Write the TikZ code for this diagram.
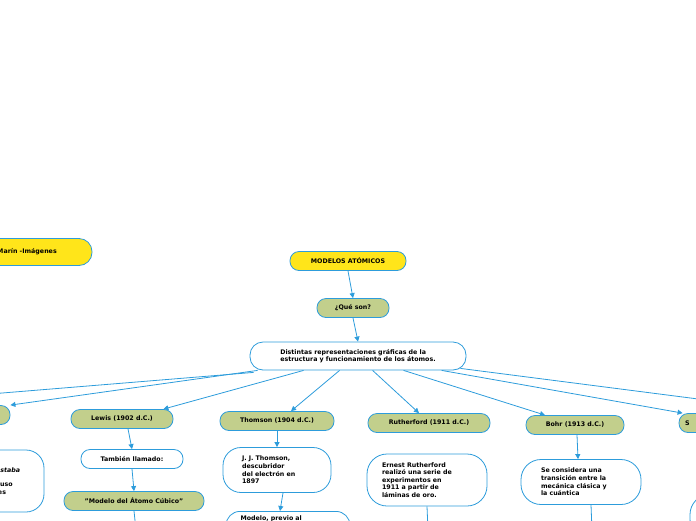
\documentclass[tikz,border=0pt]{standalone}
\usepackage{fontspec}
\setmainfont{DejaVu Sans}
\usetikzlibrary{arrows.meta}
\definecolor{ln}{HTML}{2D9CDB}
\definecolor{yel}{HTML}{FFE51A}
\definecolor{grn}{HTML}{C2CF8C}
\tikzset{
 bx/.style={draw=ln,line width=0.8pt,rounded corners=9pt,font=\bfseries\fontsize{6.3}{7.6}\selectfont,inner sep=2pt,align=center},
 yb/.style={bx,fill=yel},
 gb/.style={bx,fill=grn},
 wb/.style={bx,fill=white},
 con/.style={draw=ln,line width=0.8pt,-{Triangle[width=5pt,length=5pt]}},
 pl/.style={draw=ln,line width=0.8pt}
}
\begin{document}
\begin{tikzpicture}[x=1pt,y=-1pt]
\useasboundingbox (0,0) rectangle (696,520);
\clip (0,0) rectangle (696,520);
\node[yb,minimum width=130pt,minimum height=27pt,rounded corners=13pt] (src) at (27,252) {Marín -Imágenes};
\node[yb,minimum width=116pt,minimum height=19pt] (mod) at (348,261) {MODELOS ATÓMICOS};
\node[gb,minimum width=72pt,minimum height=19pt] (que) at (353,308) {¿Qué son?};
\node[wb,minimum width=216pt,minimum height=28pt,rounded corners=13pt,align=left] (dis) at (358,356) {Distintas representaciones gráficas de la\\estructura y funcionamiento de los átomos.};
\node[gb,minimum width=80pt,minimum height=19pt] (g0) at (-30,415) {};
\node[gb,minimum width=102pt,minimum height=19pt] (lew) at (122,419) {Lewis (1902 d.C.)};
\node[gb,minimum width=114pt,minimum height=19pt] (tho) at (277,421) {Thomson (1904 d.C.)};
\node[gb,minimum width=122pt,minimum height=19pt] (rut) at (429,423) {Rutherford (1911 d.C.)};
\node[gb,minimum width=98pt,minimum height=19pt] (boh) at (575,425) {Bohr (1913 d.C.)};
\node[gb,minimum width=82pt,minimum height=19pt,text width=70pt,align=left] (g6) at (720,423) {S};
\node[wb,minimum width=88pt,minimum height=62pt,rounded corners=18pt,text width=80pt,align=left] (w0) at (0,481) {\hspace*{36pt}\textit{estaba}\\[7pt]\hspace*{38pt}luso\\\hspace*{38pt}es};
\node[wb,minimum width=102pt,minimum height=19pt] (tam) at (132,459) {También llamado:};
\node[gb,minimum width=140pt,minimum height=19pt] (cub) at (134,501) {"Modelo del Átomo Cúbico"};
\node[wb,minimum width=108pt,minimum height=45pt,rounded corners=18pt,text width=70pt,align=left] (jjt) at (277,470) {J. J. Thomson,\\descubridor\\del electrón en\\1897};
\node[wb,minimum width=124pt,rounded corners=14pt,text width=95pt,align=left,anchor=north,inner sep=4pt] (prev) at (288,511) {Modelo, previo al\\[16pt]\mbox{}};
\node[wb,minimum width=120pt,minimum height=52pt,rounded corners=20pt,text width=90pt,align=left] (ern) at (427,480) {Ernest Rutherford\\realizó una serie de\\experimentos en\\1911 a partir de\\láminas de oro.};
\node[wb,minimum width=120pt,minimum height=45pt,rounded corners=20pt,text width=80pt,align=left] (bw) at (581,482) {Se considera una\\transición entre la\\mecánica clásica y\\la cuántica};
\node[wb,minimum width=100pt,minimum height=45pt,rounded corners=20pt] (w6) at (740,517) {};
\coordinate (offL) at (-10,394);
\coordinate (offR) at (706,400);
\coordinate (cubD) at (136,530);
\coordinate (ernD) at (428,530);
\coordinate (bwD) at (592,530);
\draw[con] (mod.south) -- (que.north);
\draw[con] (que.south) -- (dis.north);
\draw[pl] ([xshift=4pt,yshift=-2pt]dis.south west) -- (offL);
\draw[con] ([xshift=8pt]dis.south west) -- (g0.north east);
\draw[con] ([xshift=54pt]dis.south west) -- ([xshift=-10pt]lew.north east);
\draw[con] ([xshift=90pt]dis.south west) -- ([xshift=14pt]tho.north);
\draw[con] ([xshift=123pt]dis.south west) -- ([xshift=-10pt]rut.north);
\draw[con] ([xshift=154pt]dis.south west) -- ([xshift=-30pt]boh.north);
\draw[con] ([xshift=192pt]dis.south west) -- ([xshift=4pt]g6.north west);
\draw[pl] ([xshift=-6pt,yshift=2pt]dis.south east) -- (offR);
\draw[con] ([xshift=6pt]lew.south) -- (tam.north);
\draw[con] (tam.south) -- (cub.north);
\draw[pl] (cub.south) -- (cubD);
\draw[con] (tho.south) -- (jjt.north);
\draw[con] ([xshift=6pt]jjt.south) -- ([xshift=-8pt]prev.north);
\draw[pl] (ern.south) -- (ernD);
\draw[con] ([xshift=2pt]boh.south) -- ([xshift=-3pt]bw.north);
\draw[pl] ([xshift=10pt]bw.south) -- (bwD);
\end{tikzpicture}
\end{document}
